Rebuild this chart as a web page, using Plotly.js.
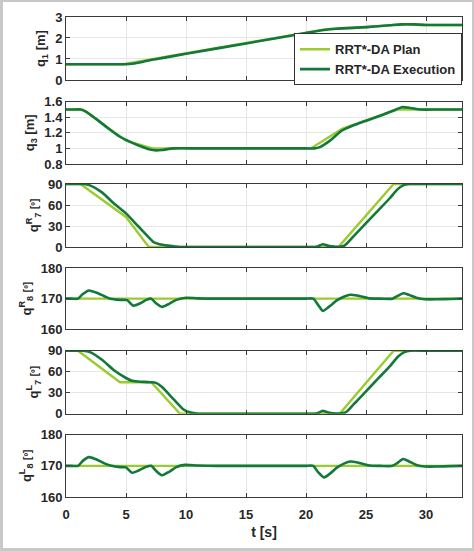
<!DOCTYPE html>
<html><head><meta charset="utf-8">
<script src="https://cdn.plot.ly/plotly-3.0.1.min.js"></script>
<style>
html,body{margin:0;padding:0;background:#c8c8c8;width:474px;height:551px;overflow:hidden}
#plot{position:absolute;left:3px;top:2px;width:469px;height:546px;background:#fff}
</style></head><body><div id="plot"></div><script>
// ---- data ----
const seriesNames = ["RRT*-DA Plan", "RRT*-DA Execution"];
const yTitles = ["q<sub>1</sub> [m]", "q<sub>3</sub> [m]",
  "q<sup>R</sup><sub>7</sub> <span style=\"font-size:10px\">[º]</span>",
  "q<sup>R</sup><sub>8</sub> <span style=\"font-size:10px\">[º]</span>",
  "q<sup>L</sup><sub>7</sub> <span style=\"font-size:10px\">[º]</span>",
  "q<sup>L</sup><sub>8</sub> <span style=\"font-size:10px\">[º]</span>"];
const yRanges = [[0,3],[0.8,1.6],[0,90],[160,180],[0,90],[160,180]];
const yTicks = [[0,1,2,3],[0.8,1,1.2,1.4,1.6],[0,30,60,90],[160,170,180],[0,30,60,90],[160,170,180]];
const xTicks = [0,5,10,15,20,25,30];

// q1
const q1PlanT = [0,4.8,7.3,21.7,25,27.8,29.5,33];
const q1PlanV = [0.75,0.75,1.0,2.42,2.51,2.65,2.62,2.62];
const q1ExecT = [0,2.5,5,5.5,6,6.5,7,7.5,8,10,15,20,21.5,22.5,25,27,28,29,30,31.5,33];
const q1ExecV = [0.75,0.75,0.75,0.77,0.82,0.88,0.94,0.99,1.04,1.25,1.74,2.24,2.38,2.44,2.52,2.61,2.65,2.65,2.62,2.62,2.62];
// q3
const q3PlanT = [0,1.4,5,7.2,20.4,23,27.6,33];
const q3PlanV = [1.5,1.5,1.1,1.0,1.0,1.25,1.5,1.5];
const q3ExecT = [0,0.6,1.2,1.7,2.5,3.5,4.5,5,6,7,7.5,8,9,11,14,17,20,20.7,21.2,22,23,24,26,27.5,28,28.7,29.5,31,33];
const q3ExecV = [1.5,1.5,1.5,1.47,1.38,1.26,1.15,1.11,1.04,0.985,0.975,0.98,1.0,1.0,1.0,1.0,1.0,1.0,1.02,1.1,1.23,1.3,1.41,1.5,1.53,1.52,1.5,1.5,1.5];
// q7R
const q7RPlanT = [0,1.2,5,6.9,22.7,27.3,33];
const q7RPlanV = [90,90,43,0,0,90,90];
const q7RExecT = [0,0.8,1.5,2,3,4,5,6,7,7.3,7.8,8.5,9.5,11,13,15,17,19,20.7,21,21.4,21.8,22.3,22.8,23.2,24,25,26,27,27.6,28.1,28.6,30,31.5,33];
const q7RExecV = [90,90,90,88,78,62,48,30,12,7,4,2,0,0,0,0,0,0,0,1,4,2,0.5,0.3,2,16,34,52,70,82,88,90,90,90,90];
// q8R
const q8RPlanT = [0,33];
const q8RPlanV = [170,170];
const q8RExecT = [0,0.5,1.0,1.4,1.9,2.5,3.2,3.7,4.5,5.1,5.6,6.2,6.7,7.1,7.5,8.0,8.6,9.2,10,11,12.5,14,15.5,17,18.5,20,20.6,21.0,21.4,21.9,22.6,23.2,23.7,24.3,25.3,26.2,27.2,27.6,28.1,28.6,29.2,29.9,31,32,33];
const q8RExecV = [170,170,170,171.5,172.7,172,170.8,170,169.6,169.5,167.7,168.5,169.6,170,168.5,167.3,168.3,169.6,170.3,170.1,170,170,170,170,170,170,170,168,166,167.3,169.5,170.7,171.3,171,170.1,170,170,170.8,171.8,171.2,170.3,169.8,169.8,169.9,170];
// q7L
const q7LPlanT = [0,1.0,4.5,7.1,9.5,22.8,27.3,33];
const q7LPlanV = [90,90,45,45,0,0,90,90];
const q7LExecT = [0,0.7,1.4,2,3,4,5,5.5,6,7,7.5,8,9,9.8,10.3,11,13,15,17,19,20.7,21,21.4,21.8,22.3,22.8,23.3,24,25,26,27,27.7,28.2,28.7,30,31.5,33];
const q7LExecV = [90,90,90,88,77,62,51,47,46,45,44,38,20,6,2,0,0,0,0,0,0,1,4,2,0.5,0.3,2,14,32,50,68,82,88,90,90,90,90];
// q8L
const q8LPlanT = [0,33];
const q8LPlanV = [170,170];
const q8LExecT = [0,0.5,1.0,1.4,1.9,2.5,3.2,3.8,4.5,5.0,5.5,6.1,6.7,7.1,7.5,8.0,8.6,9.2,9.9,11,12.5,14,15.5,17,18.5,20,20.6,21.0,21.5,22.0,22.6,23.2,23.7,24.3,25.3,26.2,27.2,27.6,28.1,28.6,29.2,29.9,31,32,33];
const q8LExecV = [170,170,170,171.6,172.8,172.1,170.8,170,169.6,169.5,167.8,168.6,169.7,170,168.4,167.0,168.1,169.6,170.3,170.1,170,170,170,170,170,170,170,168,166.3,167.5,169.5,170.8,171.4,171.1,170.1,170,170,170.9,172.2,171.4,170.3,169.8,169.8,169.9,170];

const planSets = [[q1PlanT,q1PlanV],[q3PlanT,q3PlanV],[q7RPlanT,q7RPlanV],[q8RPlanT,q8RPlanV],[q7LPlanT,q7LPlanV],[q8LPlanT,q8LPlanV]];
const execSets = [[q1ExecT,q1ExecV],[q3ExecT,q3ExecV],[q7RExecT,q7RExecV],[q8RExecT,q8RExecV],[q7LExecT,q7LExecV],[q8LExecT,q8LExecV]];

// ---- styling ----
const planColor = "#9ccb2f";
const execColor = "#12793a";
const domains = [[0.8688,1.0],[0.6938,0.8235],[0.5208,0.6521],[0.35,0.4765],[0.1735,0.3048],[0,0.1298]];
const fontFam = "Liberation Sans, Arial, Helvetica, sans-serif";
const axisColor = "#3a3a3a";

const traces = [];
const layout = {
  width: 469, height: 546,
  margin: {l: 63, r: 10, t: 15, b: 51},
  paper_bgcolor: "#ffffff", plot_bgcolor: "#ffffff",
  font: {family: fontFam, size: 13, color: "#262626", weight: "bold"},
  showlegend: true,
  legend: {x: 1, xanchor: "right", y: 0.966, yanchor: "top",
    bgcolor: "#ffffff", bordercolor: "#333333", borderwidth: 1,
    font: {family: fontFam, size: 13, color: "#262626", weight: "bold"},
    itemwidth: 30, tracegroupgap: 0}
};

for (let i = 0; i < 6; i++) {
  const n = i + 1;
  const xa = "x" + (n === 1 ? "" : n);
  const ya = "y" + (n === 1 ? "" : n);
  traces.push({x: planSets[i][0], y: planSets[i][1], xaxis: xa, yaxis: ya, mode: "lines",
    name: seriesNames[0], legendgroup: "plan", showlegend: i === 0,
    line: {color: planColor, width: 2.4}});
  traces.push({x: execSets[i][0], y: execSets[i][1], xaxis: xa, yaxis: ya, mode: "lines",
    name: seriesNames[1], legendgroup: "exec", showlegend: i === 0,
    line: {color: execColor, width: 2.6, shape: "spline", smoothing: 0.7}});
  const xKey = "xaxis" + (n === 1 ? "" : n);
  const yKey = "yaxis" + (n === 1 ? "" : n);
  layout[xKey] = {domain: [0, 1], anchor: ya, range: [0, 33], tickvals: xTicks,
    showticklabels: i === 5, ticks: "inside", ticklen: 4, tickcolor: axisColor,
    showline: true, linecolor: axisColor, linewidth: 1, mirror: "ticks",
    showgrid: true, gridcolor: "#e6e6e6", gridwidth: 1, zeroline: false,
    tickfont: {size: 13, weight: "bold"}, ticklabelstandoff: 5,
    title: i === 5 ? {text: "t [s]", font: {size: 14, weight: "bold"}, standoff: 6} : {text: ""}};
  layout[yKey] = {domain: domains[i], anchor: xa, range: yRanges[i], tickvals: yTicks[i],
    ticks: "inside", ticklen: 4, tickcolor: axisColor,
    showline: true, linecolor: axisColor, linewidth: 1, mirror: "ticks",
    showgrid: true, gridcolor: "#e6e6e6", gridwidth: 1, zeroline: false,
    tickfont: {size: 13, weight: "bold"},
    title: {text: yTitles[i], font: {size: 13, weight: "bold"}, standoff: 6}};
}

Plotly.newPlot("plot", traces, layout, {displayModeBar: false, staticPlot: true});
</script></body></html>
